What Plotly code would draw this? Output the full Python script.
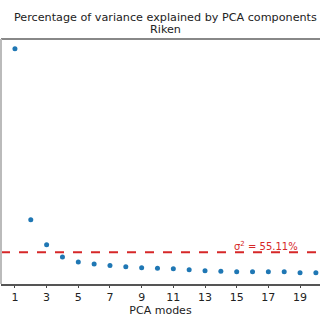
import plotly.graph_objects as go

modes = list(range(1, 21))
variance = [48.0, 13.1, 8.0, 5.5, 4.5, 4.1, 3.8, 3.5, 3.3, 3.2,
            3.1, 2.9, 2.7, 2.6, 2.5, 2.5, 2.5, 2.5, 2.3, 2.3]
threshold = 6.5
threshold_label = "σ<sup>2</sup> = 55.11%"
x_ticks = [1, 3, 5, 7, 9, 11, 13, 15, 17, 19]
title_line1 = "Percentage of variance explained by PCA components"
title_line2 = "Riken"
x_title = "PCA modes"

fig = go.Figure()
fig.add_trace(go.Scatter(
    x=modes, y=variance, mode="markers",
    marker=dict(color="#1f77b4", size=5, line=dict(width=0)),
    showlegend=False,
))
fig.add_hline(y=threshold, line=dict(color="#d62728", width=2, dash="dash"))
fig.add_annotation(x=19, y=threshold, xref="x", yref="y", text=threshold_label,
                   showarrow=False, xanchor="right", yanchor="bottom", yshift=-2,
                   font=dict(color="#d62728", size=10, family="DejaVu Sans"))

fig.add_annotation(x=0.515, y=1, xref="paper", yref="paper", yshift=22,
                   text=title_line1, showarrow=False, xanchor="center", yanchor="middle",
                   font=dict(size=11.2, color="#222", family="DejaVu Sans"))
fig.add_annotation(x=0.517, y=1, xref="paper", yref="paper", yshift=10,
                   text=title_line2, showarrow=False, xanchor="center", yanchor="middle",
                   font=dict(size=11.2, color="#222", family="DejaVu Sans"))

# spines
fig.add_shape(type="line", xref="paper", yref="paper", x0=0, x1=1, y0=1, y1=1,
              line=dict(color="#888888", width=2))
fig.add_shape(type="line", xref="paper", yref="paper", x0=0, x1=0, y0=0, y1=1,
              line=dict(color="#bbbbbb", width=2))

fig.update_layout(
    width=320, height=320,
    margin=dict(l=1, r=0, t=39, b=36),
    paper_bgcolor="white", plot_bgcolor="white",
    font=dict(family="DejaVu Sans", size=11, color="#222"),
    xaxis=dict(range=[0.12, 20.26], tickvals=x_ticks, ticks="outside", ticklen=2,
               tickcolor="#444", showgrid=False, zeroline=False,
               showline=True, linecolor="#555", linewidth=1.5,
               title=dict(text=x_title, font=dict(size=11), standoff=0),
               tickfont=dict(size=11)),
    yaxis=dict(range=[0, 50], showticklabels=False, showgrid=False,
               zeroline=False, showline=False, ticks=""),
)

fig.write_html("out.html")
